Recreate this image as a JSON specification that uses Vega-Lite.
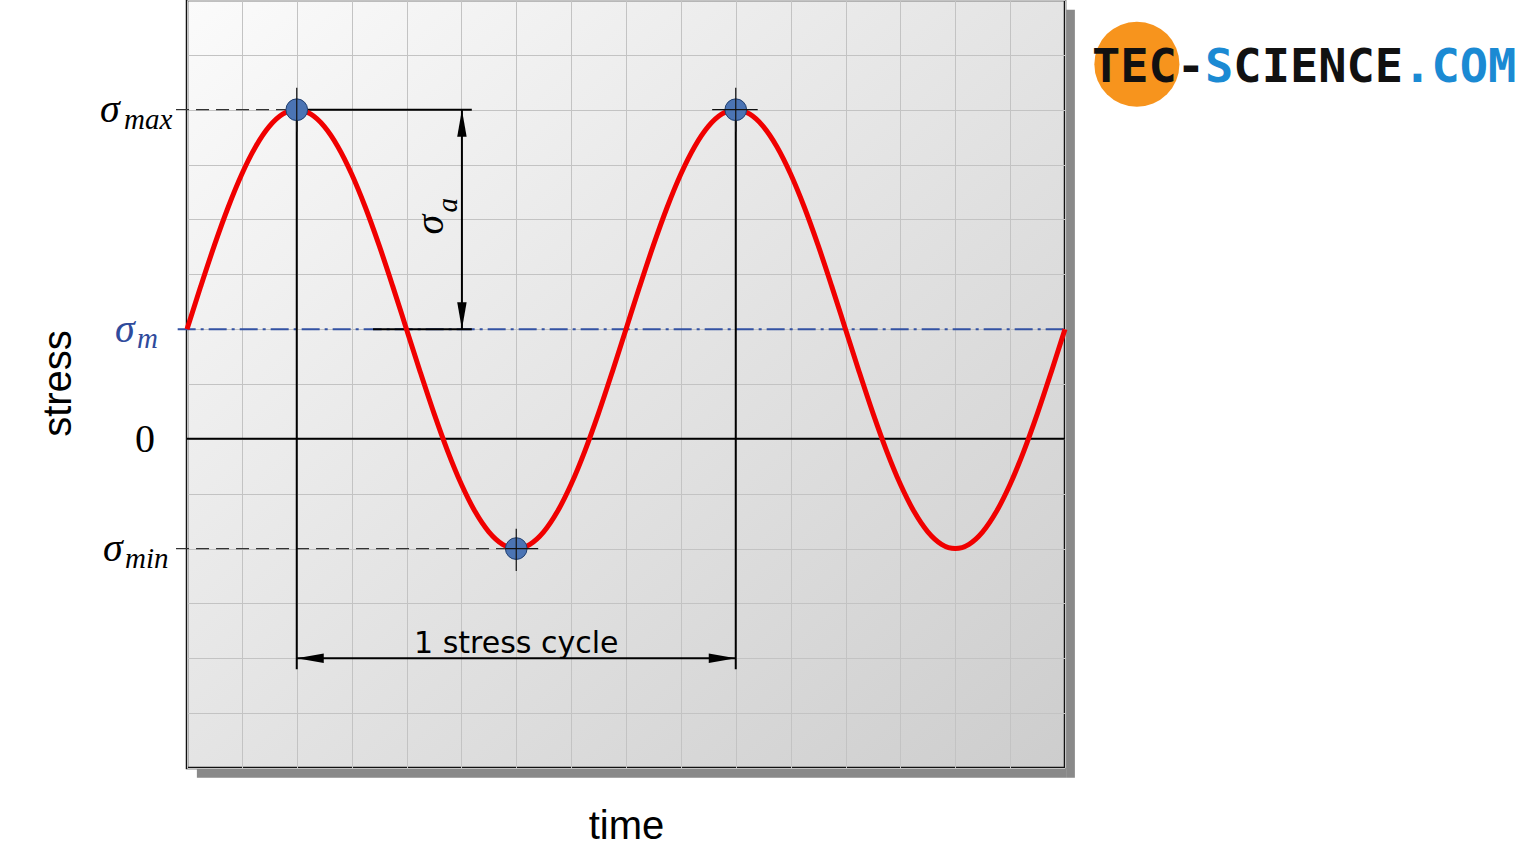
{
  "$schema": "https://vega.github.io/schema/vega-lite/v6.json",
  "autosize": "none",
  "padding": {"left": 187, "top": 0, "right": 471, "bottom": 96},
  "width": 878,
  "height": 768,
  "background": "white",
  "datasets": {
    "stress": [
      {"x": 0, "y": 2}, {"x": 0.25, "y": 2.78}, {"x": 0.5, "y": 3.531}, {"x": 0.75, "y": 4.222},
      {"x": 1, "y": 4.828}, {"x": 1.25, "y": 5.326}, {"x": 1.5, "y": 5.696}, {"x": 1.75, "y": 5.923},
      {"x": 2, "y": 6}, {"x": 2.25, "y": 5.923}, {"x": 2.5, "y": 5.696}, {"x": 2.75, "y": 5.326},
      {"x": 3, "y": 4.828}, {"x": 3.25, "y": 4.222}, {"x": 3.5, "y": 3.531}, {"x": 3.75, "y": 2.78},
      {"x": 4, "y": 2}, {"x": 4.25, "y": 1.22}, {"x": 4.5, "y": 0.469}, {"x": 4.75, "y": -0.222},
      {"x": 5, "y": -0.828}, {"x": 5.25, "y": -1.326}, {"x": 5.5, "y": -1.696}, {"x": 5.75, "y": -1.923},
      {"x": 6, "y": -2}, {"x": 6.25, "y": -1.923}, {"x": 6.5, "y": -1.696}, {"x": 6.75, "y": -1.326},
      {"x": 7, "y": -0.828}, {"x": 7.25, "y": -0.222}, {"x": 7.5, "y": 0.469}, {"x": 7.75, "y": 1.22},
      {"x": 8, "y": 2}, {"x": 8.25, "y": 2.78}, {"x": 8.5, "y": 3.531}, {"x": 8.75, "y": 4.222},
      {"x": 9, "y": 4.828}, {"x": 9.25, "y": 5.326}, {"x": 9.5, "y": 5.696}, {"x": 9.75, "y": 5.923},
      {"x": 10, "y": 6}, {"x": 10.25, "y": 5.923}, {"x": 10.5, "y": 5.696}, {"x": 10.75, "y": 5.326},
      {"x": 11, "y": 4.828}, {"x": 11.25, "y": 4.222}, {"x": 11.5, "y": 3.531}, {"x": 11.75, "y": 2.78},
      {"x": 12, "y": 2}, {"x": 12.25, "y": 1.22}, {"x": 12.5, "y": 0.469}, {"x": 12.75, "y": -0.222},
      {"x": 13, "y": -0.828}, {"x": 13.25, "y": -1.326}, {"x": 13.5, "y": -1.696}, {"x": 13.75, "y": -1.923},
      {"x": 14, "y": -2}, {"x": 14.25, "y": -1.923}, {"x": 14.5, "y": -1.696}, {"x": 14.75, "y": -1.326},
      {"x": 15, "y": -0.828}, {"x": 15.25, "y": -0.222}, {"x": 15.5, "y": 0.469}, {"x": 15.75, "y": 1.22},
      {"x": 16, "y": 2}
    ],
    "peaks": [{"x": 2, "y": 6}, {"x": 10, "y": 6}, {"x": 6, "y": -2}],
    "shadow": [
      {"x": 16.02, "x2": 16.18, "y": 7.82, "y2": -6.18},
      {"x": 0.18, "x2": 16.02, "y": -6.02, "y2": -6.18}
    ],
    "dashed": [{"x": -0.2, "x2": 2, "y": 6}, {"x": -0.2, "x2": 5.8, "y": -2}],
    "mean": [{"x": -0.17, "x2": 16, "y": 2}],
    "hlines": [
      {"x": 0, "x2": 16, "y": 0},
      {"x": 2, "x2": 5.19, "y": 6},
      {"x": 3.39, "x2": 5.19, "y": 2},
      {"x": 2, "x2": 10, "y": -4}
    ],
    "vlines": [
      {"x": 2, "y": 6, "y2": -4.2},
      {"x": 10, "y": 6, "y2": -4.2},
      {"x": 5.01, "y": 6, "y2": 2}
    ],
    "crossh": [{"x": 9.57, "x2": 10.4, "y": 6}, {"x": 5.8, "x2": 6.4, "y": -2}],
    "crossv": [
      {"x": 2, "y": 6.4, "y2": 5.6},
      {"x": 10, "y": 6.4, "y2": 5.6},
      {"x": 6, "y": -1.64, "y2": -2.41}
    ],
    "heads": [
      {"x": 5.01, "y": 6, "dir": "up"},
      {"x": 5.01, "y": 2, "dir": "down"},
      {"x": 2, "y": -4, "dir": "left"},
      {"x": 10, "y": -4, "dir": "right"}
    ],
    "sig": [{"x": -1.585, "y": 6}, {"x": -1.531, "y": -2}],
    "subs": [{"x": -1.148, "y": 6, "t": "max"}, {"x": -1.13, "y": -2, "t": "min"}],
    "sigm": [{"x": -1.312, "y": 2}],
    "subm": [{"x": -0.911, "y": 2, "t": "m"}],
    "zero": [{"x": -0.765, "y": 0}],
    "siga": [{"x": 5.01, "y": 4}],
    "cycle": [{"x": 6, "y": -4}],
    "badge": [{"x": 17.31, "y": 6.83}],
    "logo": [
      {"x": 16.49, "y": 6.506, "part": "TEC-", "tone": "dark"},
      {"x": 18.552, "y": 6.506, "part": "S", "tone": "blue"},
      {"x": 19.068, "y": 6.506, "part": "CIENCE", "tone": "dark"},
      {"x": 22.162, "y": 6.506, "part": ".COM", "tone": "blue"}
    ]
  },
  "encoding": {
    "x": {
      "field": "x",
      "type": "quantitative",
      "scale": {"domain": [0, 16], "nice": false, "zero": false},
      "axis": {
        "values": [0, 1, 2, 3, 4, 5, 6, 7, 8, 9, 10, 11, 12, 13, 14, 15, 16],
        "grid": true,
        "labels": false,
        "ticks": false,
        "domain": false,
        "title": "time",
        "titleX": 439,
        "titleY": 70,
        "titleAlign": "center",
        "titleBaseline": "alphabetic"
      }
    },
    "y": {
      "field": "y",
      "type": "quantitative",
      "scale": {"domain": [-6, 8], "nice": false, "zero": false},
      "axis": {
        "values": [-6, -5, -4, -3, -2, -1, 0, 1, 2, 3, 4, 5, 6, 7, 8],
        "grid": true,
        "labels": false,
        "ticks": false,
        "domain": false,
        "title": "stress",
        "titleAngle": 270,
        "titleX": -117,
        "titleY": 383,
        "titleAlign": "center",
        "titleBaseline": "alphabetic"
      }
    }
  },
  "layer": [
    {
      "data": {"name": "shadow"},
      "mark": {"type": "rect", "color": "#898989"},
      "encoding": {"x2": {"field": "x2"}, "y2": {"field": "y2"}}
    },
    {
      "data": {"name": "dashed"},
      "mark": {"type": "rule", "color": "#333333", "strokeWidth": 1.3, "strokeDash": [13, 7]},
      "encoding": {"x2": {"field": "x2"}}
    },
    {
      "data": {"name": "mean"},
      "mark": {"type": "rule", "color": "#3352a3", "strokeWidth": 2, "strokeDash": [18, 5, 3, 5]},
      "encoding": {"x2": {"field": "x2"}}
    },
    {
      "data": {"name": "hlines"},
      "mark": {"type": "rule", "color": "black", "strokeWidth": 2},
      "encoding": {"x2": {"field": "x2"}}
    },
    {
      "data": {"name": "vlines"},
      "mark": {"type": "rule", "color": "black", "strokeWidth": 2},
      "encoding": {"y2": {"field": "y2"}}
    },
    {
      "data": {"name": "stress"},
      "mark": {"type": "line", "color": "#f00000", "strokeWidth": 5, "interpolate": "monotone"},
      "encoding": {}
    },
    {
      "data": {"name": "peaks"},
      "mark": {"type": "point", "shape": "circle", "filled": true, "size": 470, "color": "#4b74b4", "stroke": "#22406f", "strokeWidth": 1, "opacity": 1},
      "encoding": {}
    },
    {
      "data": {"name": "crossh"},
      "mark": {"type": "rule", "color": "#111111", "strokeWidth": 1.2},
      "encoding": {"x2": {"field": "x2"}}
    },
    {
      "data": {"name": "crossv"},
      "mark": {"type": "rule", "color": "#111111", "strokeWidth": 1.2},
      "encoding": {"y2": {"field": "y2"}}
    },
    {
      "data": {"name": "heads"},
      "transform": [{"filter": "datum.dir == 'up'"}],
      "mark": {"type": "point", "shape": "M0,0L0.35,2L-0.35,2Z", "filled": true, "color": "black", "size": 729, "angle": 0, "opacity": 1, "strokeWidth": 0},
      "encoding": {}
    },
    {
      "data": {"name": "heads"},
      "transform": [{"filter": "datum.dir == 'right'"}],
      "mark": {"type": "point", "shape": "M0,0L0.35,2L-0.35,2Z", "filled": true, "color": "black", "size": 729, "angle": 90, "opacity": 1, "strokeWidth": 0},
      "encoding": {}
    },
    {
      "data": {"name": "heads"},
      "transform": [{"filter": "datum.dir == 'down'"}],
      "mark": {"type": "point", "shape": "M0,0L0.35,2L-0.35,2Z", "filled": true, "color": "black", "size": 729, "angle": 180, "opacity": 1, "strokeWidth": 0},
      "encoding": {}
    },
    {
      "data": {"name": "heads"},
      "transform": [{"filter": "datum.dir == 'left'"}],
      "mark": {"type": "point", "shape": "M0,0L0.35,2L-0.35,2Z", "filled": true, "color": "black", "size": 729, "angle": 270, "opacity": 1, "strokeWidth": 0},
      "encoding": {}
    },
    {
      "data": {"name": "sig"},
      "mark": {"type": "text", "text": "σ", "font": "Liberation Serif", "fontStyle": "italic", "fontSize": 40, "align": "left", "baseline": "alphabetic", "dy": 12, "color": "black"},
      "encoding": {}
    },
    {
      "data": {"name": "subs"},
      "mark": {"type": "text", "font": "Liberation Serif", "fontStyle": "italic", "fontSize": 29, "align": "left", "baseline": "alphabetic", "dy": 19, "color": "black"},
      "encoding": {"text": {"field": "t"}}
    },
    {
      "data": {"name": "sigm"},
      "mark": {"type": "text", "text": "σ", "font": "Liberation Serif", "fontStyle": "italic", "fontSize": 40, "align": "left", "baseline": "alphabetic", "dy": 13, "color": "#2f4b9c"},
      "encoding": {}
    },
    {
      "data": {"name": "subm"},
      "mark": {"type": "text", "font": "Liberation Serif", "fontStyle": "italic", "fontSize": 29, "align": "left", "baseline": "alphabetic", "dy": 19, "color": "#2f4b9c"},
      "encoding": {"text": {"field": "t"}}
    },
    {
      "data": {"name": "zero"},
      "mark": {"type": "text", "text": "0", "font": "Liberation Serif", "fontSize": 40, "align": "center", "baseline": "alphabetic", "dy": 13, "color": "black"},
      "encoding": {}
    },
    {
      "data": {"name": "siga"},
      "mark": {"type": "text", "text": "σ", "font": "Liberation Serif", "fontStyle": "italic", "fontSize": 40, "align": "left", "baseline": "alphabetic", "angle": 270, "dx": -15, "dy": -19, "color": "black"},
      "encoding": {}
    },
    {
      "data": {"name": "siga"},
      "mark": {"type": "text", "text": "a", "font": "Liberation Serif", "fontStyle": "italic", "fontSize": 29, "align": "left", "baseline": "alphabetic", "angle": 270, "dx": 7, "dy": -5, "color": "black"},
      "encoding": {}
    },
    {
      "data": {"name": "cycle"},
      "mark": {"type": "text", "text": "1 stress cycle", "font": "DejaVu Sans", "fontSize": 30, "align": "center", "baseline": "alphabetic", "dy": -5, "color": "black"},
      "encoding": {}
    },
    {
      "data": {"name": "badge"},
      "mark": {"type": "point", "shape": "circle", "filled": true, "size": 7238, "color": "#f7941d", "opacity": 1},
      "encoding": {}
    },
    {
      "data": {"name": "logo"},
      "transform": [{"filter": "datum.tone == 'dark'"}],
      "mark": {"type": "text", "font": "DejaVu Sans Mono", "fontWeight": "bold", "fontSize": 47, "align": "left", "baseline": "alphabetic", "color": "#111111"},
      "encoding": {"text": {"field": "part"}}
    },
    {
      "data": {"name": "logo"},
      "transform": [{"filter": "datum.tone == 'blue'"}],
      "mark": {"type": "text", "font": "DejaVu Sans Mono", "fontWeight": "bold", "fontSize": 47, "align": "left", "baseline": "alphabetic", "color": "#1b8ad3"},
      "encoding": {"text": {"field": "part"}}
    }
  ],
  "config": {
    "view": {
      "fill": {
        "gradient": "linear",
        "x1": 0, "y1": 0, "x2": 1, "y2": 1,
        "stops": [
          {"offset": 0, "color": "#fbfbfb"},
          {"offset": 1, "color": "#cdcdcd"}
        ]
      },
      "stroke": "#111111",
      "strokeWidth": 2.5
    },
    "axis": {
      "gridColor": "#c3c3c3",
      "gridWidth": 1,
      "gridOpacity": 1,
      "titleFont": "Liberation Sans",
      "titleFontSize": 40,
      "titleFontWeight": "normal",
      "titleColor": "black"
    }
  }
}
